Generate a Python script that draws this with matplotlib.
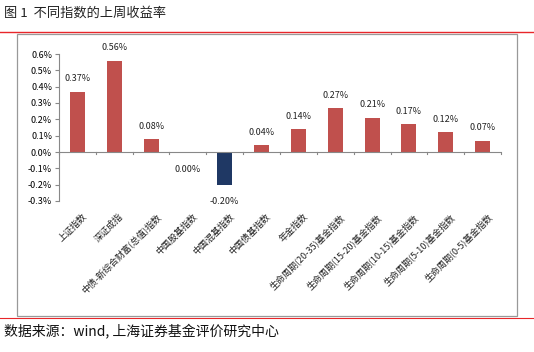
import matplotlib
matplotlib.use("Agg")
import matplotlib.pyplot as plt
from matplotlib.ticker import FuncFormatter, MultipleLocator
from matplotlib.lines import Line2D
from matplotlib.patches import Rectangle

plt.rcParams['font.family'] = ['Noto Sans CJK SC', 'DejaVu Sans']

categories = ['上证指数', '深证成指', '中债-新综合财富(总值)指数', '中国股基指数', '中国混基指数',
              '中国债基指数', '年金指数', '生命周期(20-35)基金指数', '生命周期(15-20)基金指数',
              '生命周期(10-15)基金指数', '生命周期(5-10)基金指数', '生命周期(0-5)基金指数']
values = [0.37, 0.56, 0.08, 0.00, -0.20, 0.04, 0.14, 0.27, 0.21, 0.17, 0.12, 0.07]
labels = ['0.37%', '0.56%', '0.08%', '0.00%', '-0.20%', '0.04%', '0.14%', '0.27%', '0.21%',
          '0.17%', '0.12%', '0.07%']

fig = plt.figure(figsize=(5.34, 3.52), dpi=100)
W, H = 534, 352

def fx(px):
    return px / W

def fy(py):
    return 1 - py / H

# header
fig.text(fx(4), fy(13), '图 1  不同指数的上周收益率', fontsize=9.5, va='center', ha='left', color='#222222')
fig.add_artist(Line2D([0, 1], [fy(32), fy(32)], color='#E8262A', lw=1.0))
fig.add_artist(Line2D([0, 1], [fy(318), fy(318)], color='#E8262A', lw=0.8))
fig.add_artist(Rectangle((fx(17), fy(316)), fx(517) - fx(17), fy(34) - fy(316),
                         fill=False, edgecolor='#999999', lw=0.9))
fig.text(fx(4), fy(331), '数据来源：wind, 上海证券基金评价研究中心', fontsize=10, style='italic',
         va='center', ha='left', color='#111111')

ax = fig.add_axes([fx(59), fy(201), fx(501) - fx(59), fy(54) - fy(201)])
colors = ['#1F3864' if v < 0 else '#C0504D' for v in values]
x = list(range(len(values)))
ax.bar(x, values, width=0.41, color=colors, zorder=2)
ax.set_xlim(-0.5, len(values) - 0.5)
ax.set_ylim(-0.3, 0.6)
ax.yaxis.set_major_locator(MultipleLocator(0.1))
ax.yaxis.set_major_formatter(FuncFormatter(lambda v, p: f'{v:.1f}%'))
for s in ['top', 'right', 'bottom']:
    ax.spines[s].set_visible(False)
ax.spines['left'].set_color('#888888')
ax.spines['left'].set_linewidth(0.8)
ax.tick_params(axis='y', labelsize=6.5, length=3, width=0.8, color='#888888', pad=2)
ax.axhline(0, color='#888888', lw=0.8, zorder=3)
ax.set_xticks([])
# category ticks on zero line
for b in range(len(values) + 1):
    ax.plot([b - 0.5, b - 0.5], [0, -0.012], color='#888888', lw=0.8, clip_on=False, zorder=3)

for i, (v, lab) in enumerate(zip(values, labels)):
    if v > 0:
        ax.annotate(lab, (i, v), xytext=(0, 6), textcoords='offset points', ha='center',
                    va='bottom', fontsize=6.5, color='#222222')
    else:
        ax.annotate(lab, (i, v), xytext=(0, -9), textcoords='offset points', ha='center',
                    va='top', fontsize=6.5, color='#222222')

# category labels rotated
for i, c in enumerate(categories):
    ax.annotate(c, (i + 0.12, -0.3), xytext=(0, -8), textcoords='offset points',
                rotation=45, ha='right', va='top', fontsize=6.5, color='#222222',
                rotation_mode='anchor')

fig.savefig('out.png', dpi=100)
